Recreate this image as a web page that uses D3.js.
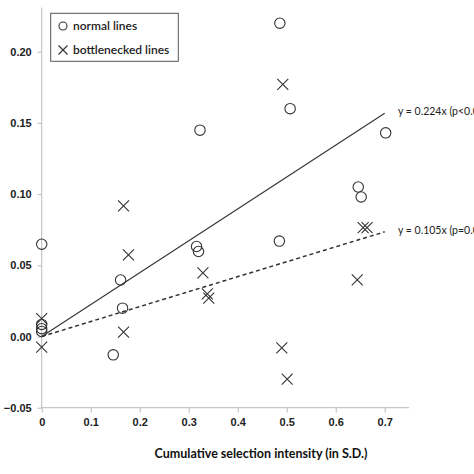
<!DOCTYPE html>
<html>
<head>
<meta charset="utf-8">
<script src="https://cdn.jsdelivr.net/npm/d3@7"></script>
<style>
  html, body { margin: 0; padding: 0; background: #fff; }
  svg { display: block; font-family: Lato, "Open Sans", sans-serif; }
</style>
</head>
<body>
<div id="chart"></div>
<script>
  // normal lines (circles)
  const normalX = [0, 0, 0, 0, 0.486, 0.507, 0.323, 0.702, 0.646, 0.652, 0.485, 0.316, 0.320, 0.161, 0.165, 0.146];
  const normalY = [0.0648, 0.0085, 0.0055, 0.0035, 0.220, 0.160, 0.1449, 0.143, 0.105, 0.098, 0.067, 0.0632, 0.0597, 0.0397, 0.0199, -0.0129];

  // bottlenecked lines (crosses)
  const bottleX = [0.492, 0.167, 0.177, 0.329, 0.338, 0.341, 0.167, 0, 0, 0.644, 0.490, 0.501, 0.656, 0.664];
  const bottleY = [0.177, 0.0917, 0.0573, 0.0447, 0.030, 0.027, 0.003, 0.0125, -0.0075, 0.0397, -0.008, -0.030, 0.0765, 0.0765];

  const xTicks = [0, 0.1, 0.2, 0.3, 0.4, 0.5, 0.6, 0.7];
  const yTicks = [-0.05, 0, 0.05, 0.10, 0.15, 0.20];

  const fits = [
    { slope: 0.224, label: 'y = 0.224x (p<0.001)', dash: null },
    { slope: 0.105, label: 'y = 0.105x (p=0.003)', dash: '4,3' }
  ];
  const legendLabels = ['normal lines', 'bottlenecked lines'];
  const xTitle = 'Cumulative selection intensity (in S.D.)';

  const W = 474, H = 474;
  const x = d3.scaleLinear().domain([0, 0.75]).range([41.7, 409.2]);
  const y = d3.scaleLinear().domain([-0.05, 0.20]).range([407.7, 51.7]);
  const yTop = 0.231;

  const svg = d3.select('#chart').append('svg')
    .attr('width', W).attr('height', H);

  // axes
  const gx = svg.append('g')
    .attr('transform', `translate(0,${y(-0.05)})`)
    .call(d3.axisBottom(x).tickValues(xTicks).tickSize(5).tickPadding(6)
      .tickFormat(d => d === 0 ? '0' : d3.format('.1f')(d)));
  gx.select('.domain').attr('stroke', '#bbb').attr('d', `M${x(0)},0H${x(0.75)}`);

  const gy = svg.append('g')
    .attr('transform', `translate(${x(0)},0)`)
    .call(d3.axisLeft(y).tickValues(yTicks).tickSize(4).tickPadding(6)
      .tickFormat(d3.format('.2f')));
  gy.select('.domain').attr('stroke', '#bbb').attr('d', `M0,${y(yTop)}V${y(-0.05)}`);

  svg.selectAll('.tick line').attr('stroke', '#bbb');
  svg.selectAll('.tick text')
    .attr('fill', '#222')
    .style('font-size', '11px')
    .style('font-weight', '600');

  // regression lines
  fits.forEach(f => {
    svg.append('line')
      .attr('x1', x(0)).attr('y1', y(0))
      .attr('x2', x(0.7)).attr('y2', y(f.slope * 0.7))
      .attr('stroke', '#333')
      .attr('stroke-width', f.dash ? 1.5 : 1.1)
      .attr('stroke-dasharray', f.dash);
    svg.append('text')
      .attr('x', 398).attr('y', y(f.slope * 0.7) - 2)
      .attr('dy', '0.35em')
      .attr('fill', '#222')
      .style('font-size', '10.5px')
      .text(f.label);
  });

  // points
  svg.append('g').selectAll('circle')
    .data(d3.zip(normalX, normalY))
    .join('circle')
    .attr('cx', d => x(d[0]))
    .attr('cy', d => y(d[1]))
    .attr('r', 5.2)
    .attr('fill', 'none')
    .attr('stroke', '#333')
    .attr('stroke-width', 1.1);

  const s = 5.5;
  svg.append('g').selectAll('path')
    .data(d3.zip(bottleX, bottleY))
    .join('path')
    .attr('d', d => {
      const cx = x(d[0]), cy = y(d[1]);
      return `M${cx - s},${cy - s}L${cx + s},${cy + s}M${cx - s},${cy + s}L${cx + s},${cy - s}`;
    })
    .attr('fill', 'none')
    .attr('stroke', '#333')
    .attr('stroke-width', 1.1);

  // legend
  const lg = svg.append('g');
  lg.append('rect')
    .attr('x', 50.7).attr('y', 13.3)
    .attr('width', 127.6).attr('height', 48)
    .attr('fill', '#fff')
    .attr('stroke', '#555')
    .attr('stroke-width', 1);
  lg.append('circle')
    .attr('cx', 63).attr('cy', 26).attr('r', 4)
    .attr('fill', 'none').attr('stroke', '#333').attr('stroke-width', 1.1);
  lg.append('path')
    .attr('d', 'M58.5,45.5L67.5,54.5M58.5,54.5L67.5,45.5')
    .attr('stroke', '#333').attr('stroke-width', 1.1);
  legendLabels.forEach((t, i) => {
    lg.append('text')
      .attr('x', 73).attr('y', 26 + i * 24)
      .attr('dy', '0.35em')
      .attr('fill', '#222')
      .style('font-size', '12px')
      .style('font-weight', '600')
      .text(t);
  });

  // x axis title
  svg.append('text')
    .attr('x', 261).attr('y', 454)
    .attr('dy', '0.35em')
    .attr('text-anchor', 'middle')
    .attr('fill', '#111')
    .style('font-size', '12.5px')
    .style('font-weight', 'bold')
    .text(xTitle);
</script>
</body>
</html>
